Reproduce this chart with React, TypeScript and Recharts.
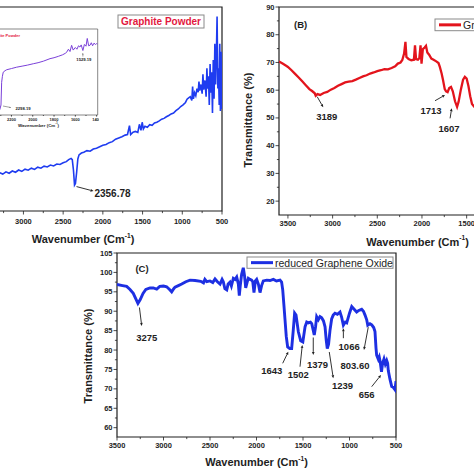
import { LineChart, Line, XAxis, YAxis, ReferenceArea, ReferenceDot } from 'recharts';

const FONT = '"Liberation Sans", Arial, Helvetica, sans-serif';
const INK = '#1e1e1e';

type Pt = [number, number];

// (A) graphite powder: wavenumber (cm-1), relative transmittance
const graphitePowder: Pt[] = [
  [3500, 18.2], [3450, 17.5], [3400, 18.6], [3350, 18.0], [3300, 18.8], [3260, 18.1], [3220, 19.2],
  [3180, 18.5], [3140, 19.6], [3100, 19.0], [3060, 20.1], [3020, 19.4], [2980, 20.5], [2940, 20.0],
  [2900, 21.0], [2860, 20.4], [2820, 21.5], [2780, 21.0], [2740, 22.0], [2700, 21.6], [2660, 22.5],
  [2620, 22.1], [2580, 23.0], [2540, 22.8], [2500, 23.6], [2460, 24.2], [2430, 25.2], [2400, 25.8],
  [2385, 25.2], [2370, 20.0], [2356.78, 12.7], [2345, 13.5], [2330, 19.0], [2315, 25.5], [2300, 27.5],
  [2270, 28.4], [2240, 28.8], [2200, 29.6], [2160, 29.3], [2120, 30.4], [2080, 30.8], [2040, 31.5],
  [2000, 32.2], [1960, 32.6], [1920, 33.5], [1880, 34.0], [1840, 35.2], [1800, 35.8], [1760, 36.4],
  [1720, 37.2], [1690, 37.5], [1665, 41.8], [1650, 37.5], [1620, 38.6], [1590, 39.0], [1560, 38.5],
  [1540, 42.5], [1520, 39.5], [1505, 43.5], [1490, 40.2], [1470, 41.5], [1440, 41.0], [1410, 42.3],
  [1380, 42.0], [1350, 43.2], [1320, 43.5], [1290, 44.2], [1260, 45.0], [1230, 45.4], [1200, 46.2],
  [1170, 46.8], [1140, 47.6], [1110, 48.0], [1080, 49.2], [1050, 50.0], [1020, 51.2], [990, 52.0],
  [960, 53.2], [940, 54.8], [920, 55.5], [900, 56.0], [880, 54.2], [870, 61.0], [860, 55.0],
  [845, 58.0], [830, 56.5], [815, 60.0], [800, 58.2], [790, 63.5], [780, 59.0], [765, 62.0],
  [750, 57.5], [740, 67.0], [730, 59.5], [715, 64.0], [700, 56.0], [690, 70.0], [680, 60.0],
  [670, 66.0], [660, 52.0], [650, 72.0], [640, 58.0], [630, 68.0], [620, 48.0], [610, 74.0],
  [600, 55.0], [590, 82.0], [580, 62.0], [570, 78.0], [562, 95.3], [552, 60.0], [545, 70.0],
  [535, 52.0], [528, 82.0], [520, 49.0], [512, 78.0], [505, 56.0], [500, 50.0],
];
const graphitePeak = 2356.78;

// inset: magnified graphite trace
const graphiteInset: Pt[] = [
  [2500, 3], [2400, 2], [2340, 3], [2310, 6], [2298.19, 11.6], [2292, 38], [2285, 45], [2277, 49.8],
  [2260, 51.5], [2245, 52.6], [2200, 54.0], [2151, 55.6], [2100, 56.8], [2050, 58.0], [1995, 59.6],
  [1950, 60.8], [1900, 62.6], [1838, 65.5], [1800, 66.6], [1760, 68.2], [1720, 70.0], [1690, 72.0],
  [1682, 73.0], [1665, 76.5], [1650, 73.8], [1635, 81.0], [1620, 75.5], [1600, 78.5], [1585, 76.5],
  [1570, 80.5], [1557, 79.0], [1545, 81.5], [1529.19, 75.0], [1515, 82.0], [1500, 80.0], [1488, 89.0],
  [1475, 80.5], [1463, 81.0], [1450, 84.0], [1438, 80.5], [1425, 83.5], [1410, 82.0], [1400, 83.0],
  [1390, 82.5],
];
const insetPeaks = [2298.19, 1529.19];

// (B) graphene oxide, transmittance (%)
const grapheneOxide: Pt[] = [
  [3600, 70.4], [3560, 69.6], [3520, 68.8], [3500, 68.4], [3460, 67.2], [3420, 65.9], [3380, 64.6],
  [3340, 63.2], [3300, 61.8], [3260, 60.4], [3230, 59.7], [3200, 58.9], [3189, 58.0], [3170, 58.6],
  [3140, 58.3], [3100, 59.0], [3060, 59.4], [3020, 60.2], [2980, 60.8], [2940, 61.6], [2900, 62.2],
  [2860, 62.8], [2820, 63.1], [2780, 63.3], [2740, 63.8], [2700, 64.4], [2660, 65.0], [2620, 65.4],
  [2580, 66.0], [2540, 66.4], [2500, 66.9], [2460, 67.2], [2420, 67.6], [2380, 67.5], [2340, 68.0],
  [2300, 68.6], [2270, 69.6], [2240, 70.0], [2220, 70.9], [2200, 73.2], [2185, 77.4], [2174, 72.0],
  [2150, 71.2], [2120, 70.8], [2090, 71.0], [2078, 76.2], [2066, 71.2], [2045, 71.0], [2030, 71.5],
  [2016, 76.2], [2005, 69.6], [1990, 74.8], [1970, 75.4], [1955, 76.0], [1940, 73.6], [1920, 72.8],
  [1895, 71.4], [1870, 71.0], [1840, 70.4], [1815, 69.8], [1800, 68.4], [1780, 66.0], [1765, 63.8],
  [1745, 60.4], [1730, 59.6], [1713, 59.3], [1695, 60.8], [1675, 61.2], [1655, 59.6], [1630, 56.0],
  [1607, 54.0], [1590, 55.8], [1565, 60.2], [1540, 63.8], [1520, 64.8], [1500, 64.2], [1480, 61.5],
  [1460, 57.8], [1440, 55.0], [1420, 54.2], [1400, 55.0], [1380, 55.6],
];
const goPeaks = [3189, 1713, 1607];

// (C) reduced graphene oxide, transmittance (%)
const reducedGO: Pt[] = [
  [3500, 96.9], [3440, 96.6], [3396, 96.4], [3360, 95.6], [3325, 94.6], [3300, 93.3], [3275, 92.0],
  [3250, 93.0], [3220, 94.6], [3190, 95.6], [3145, 96.0], [3110, 96.0], [3073, 95.7], [3040, 96.4],
  [3000, 96.5], [2966, 96.3], [2935, 95.6], [2912, 95.0], [2890, 95.8], [2876, 96.2], [2840, 96.6],
  [2804, 97.0], [2760, 97.6], [2715, 98.0], [2660, 97.9], [2600, 97.7], [2570, 97.3], [2555, 98.2],
  [2535, 97.6], [2500, 97.8], [2470, 97.4], [2446, 98.3], [2420, 97.6], [2392, 97.0], [2370, 98.2],
  [2357, 97.6], [2340, 95.8], [2320, 95.5], [2305, 97.0], [2285, 97.5], [2270, 96.5], [2249, 98.5],
  [2230, 98.2], [2213, 98.8], [2195, 97.0], [2185, 94.0], [2175, 96.5], [2160, 99.5], [2142, 101.2],
  [2128, 99.0], [2116, 96.0], [2100, 97.5], [2088, 98.5], [2070, 98.2], [2052, 98.0], [2040, 97.6],
  [2027, 94.8], [2012, 97.8], [1998, 98.2], [1980, 97.0], [1962, 94.8], [1945, 96.6], [1927, 97.8],
  [1890, 98.0], [1855, 97.9], [1819, 98.2], [1785, 97.8], [1747, 98.0], [1730, 97.5], [1718, 95.5],
  [1705, 91.5], [1694, 88.0], [1680, 83.5], [1665, 80.8], [1643, 80.4], [1622, 80.4], [1605, 85.0],
  [1590, 89.5], [1575, 89.0], [1550, 84.7], [1525, 82.4], [1502, 82.1], [1478, 86.0], [1460, 87.2],
  [1443, 87.0], [1420, 87.2], [1406, 86.8], [1379, 83.9], [1365, 86.0], [1353, 88.6], [1335, 87.8],
  [1317, 88.6], [1299, 88.3], [1280, 87.5], [1263, 86.0], [1250, 82.5], [1239, 80.4], [1225, 81.5],
  [1210, 85.0], [1192, 88.0], [1175, 89.0], [1156, 89.5], [1130, 89.2], [1102, 89.8], [1085, 88.5],
  [1066, 86.4], [1045, 87.2], [1030, 87.0], [1000, 89.5], [976, 91.2], [950, 90.5], [923, 89.8],
  [900, 90.2], [869, 90.5], [850, 90.0], [833, 89.0], [815, 87.8], [803.6, 86.4], [780, 86.8],
  [761, 86.5], [740, 85.8], [726, 84.8], [715, 80.5], [708, 78.7], [690, 77.6], [680, 78.2],
  [670, 77.0], [656, 74.4], [645, 76.5], [629, 77.7], [615, 76.4], [600, 77.3], [590, 76.6],
  [583, 74.7], [565, 72.5], [546, 70.6], [530, 70.4], [511, 69.8], [500, 72.0],
];
const rgoPeaks = [3275, 1643, 1502, 1379, 1239, 1066, 803.6, 656];
const rgoPeakText = ['3275', '1643', '1502', '1379', '1239', '1066', '803.60', '656'];

const seriesNames = ['Graphite Powder', 'Graphene Oxide', 'reduced Graphene Oxide'];

const steps = (from: number, to: number, step: number) => {
  const out: number[] = [];
  for (let v = from; v <= to + 1e-9; v += step) out.push(+v.toFixed(2));
  return out;
};

const toRows = (pts: Pt[]) => pts.map(([w, t]) => ({ w, t }));
const valueAt = (pts: Pt[], w: number) => (pts.find((p) => p[0] === w) as Pt)[1];

// callout placement, offsets in px from the marked point
type Callout = { dx: number; dy: number; ax: number; ay: number; bx: number; by: number };
const calloutA: Callout = { dx: 38, dy: 8, ax: 2, ay: 1.5, bx: 19, by: 6 };
const calloutInset: Callout[] = [
  { dx: 22, dy: 3, ax: 2, ay: 1, bx: 10, by: 2.5 },
  { dx: 1, dy: 9, ax: 0, ay: 6, bx: 0, by: 2.5 },
];
const calloutB: Callout[] = [
  { dx: 11, dy: 21, ax: 1.5, ay: 1, bx: 7.5, by: 11.5 },
  { dx: -16.6, dy: 18, ax: -12.6, ay: 8.6, bx: -2.6, by: 2.9 },
  { dx: -8, dy: 21.5, ax: -7, ay: 11.5, bx: -5.4, by: 1.5 },
];
const calloutC: Callout[] = [
  { dx: 8.8, dy: 34.2, ax: 1.5, ay: 4, bx: 3.8, by: 22.5 },
  { dx: -18, dy: 22.2, ax: -7, ay: 14.8, bx: -1.4, by: 3.2 },
  { dx: -4.5, dy: 33, ax: -2.8, ay: 24.8, bx: -0.5, by: 3.1 },
  { dx: 3.2, dy: 30, ax: -1, ay: 2.6, bx: -1, by: 20 },
  { dx: 15.2, dy: 37.2, ax: 2, ay: 3.5, bx: 6, by: 29.8 },
  { dx: 5.8, dy: 21.5, ax: 0, ay: 13, bx: 0, by: 3 },
  { dx: -12.8, dy: 40.5, ax: 0.5, ay: 2, bx: -3.8, by: 24.8 },
  { dx: -14.8, dy: 23.2, ax: -9.8, ay: 14.9, bx: -0.5, by: 3.2 },
];

function Arrow({ x1, y1, x2, y2, head = 3, w = 0.9 }: any) {
  const len = Math.hypot(x2 - x1, y2 - y1) || 1;
  const ux = (x2 - x1) / len;
  const uy = (y2 - y1) / len;
  const bx = x2 - ux * head;
  const by = y2 - uy * head;
  const nx = -uy * head * 0.45;
  const ny = ux * head * 0.45;
  return (
    <g>
      <line x1={x1} y1={y1} x2={bx} y2={by} stroke={INK} strokeWidth={w} />
      <polygon points={`${x2},${y2} ${bx + nx},${by + ny} ${bx - nx},${by - ny}`} fill={INK} />
    </g>
  );
}

const calloutLabel = (text: string, c: Callout, size: number, head = 3) => (props: any) => {
  const vb = props.viewBox || {};
  const cx = (vb.x ?? 0) + (vb.width ?? 0) / 2;
  const cy = (vb.y ?? 0) + (vb.height ?? 0) / 2;
  return (
    <g>
      <Arrow x1={cx + c.ax} y1={cy + c.ay} x2={cx + c.bx} y2={cy + c.by} head={head} w={head / 3.3} />
      <text x={cx + c.dx} y={cy + c.dy} textAnchor="middle" dominantBaseline="central"
        fontSize={size} fontWeight={700} fontFamily={FONT} fill={INK}>{text}</text>
    </g>
  );
};

const tickBottom = (majors: number[], size: number, gap: number, len: number) => (p: any) => {
  const v = p.payload.value;
  const major = majors.includes(v);
  return (
    <g>
      <line x1={p.x} x2={p.x} y1={p.y} y2={p.y + (major ? len : len * 0.6)} stroke={INK} strokeWidth={0.8} />
      {major && (
        <text x={p.x} y={p.y + gap} textAnchor="middle" dominantBaseline="central"
          fontSize={size} fontWeight={700} fontFamily={FONT} fill={INK}>{v}</text>
      )}
    </g>
  );
};

const tickLeft = (majors: number[], size: number, gap: number, len: number) => (p: any) => {
  const v = p.payload.value;
  const major = majors.includes(v);
  return (
    <g>
      <line x1={p.x} x2={p.x - (major ? len : len * 0.6)} y1={p.y} y2={p.y} stroke={INK} strokeWidth={0.8} />
      {major && (
        <text x={p.x - gap} y={p.y} textAnchor="end" dominantBaseline="central"
          fontSize={size} fontWeight={700} fontFamily={FONT} fill={INK}>{v}</text>
      )}
    </g>
  );
};

const xTitle = (size: number, dy: number) => (props: any) => {
  const { x, y, width } = props.viewBox;
  return (
    <text x={x + width / 2} y={y + dy} textAnchor="middle" dominantBaseline="central"
      fontSize={size} fontWeight={700} fontFamily={FONT} fill={INK}>
      Wavenumber (Cm<tspan dy={-size * 0.4} fontSize={size * 0.6}>-1</tspan>
      <tspan dy={size * 0.4}>)</tspan>
    </text>
  );
};

const yTitle = (size: number, dx: number, shift: number) => (props: any) => {
  const { x, y, height } = props.viewBox;
  const cx = x + dx;
  const cy = y + height / 2 + shift;
  return (
    <text x={cx} y={cy} transform={`rotate(-90 ${cx} ${cy})`} textAnchor="middle" dominantBaseline="central"
      fontSize={size} fontWeight={700} fontFamily={FONT} fill={INK}>Transmittance (%)</text>
  );
};

// frame labels: legend boxes and panel tags
const legendA = (props: any) => {
  const { x, y } = props.viewBox;
  return (
    <g>
      <rect x={x + 174} y={y + 8} width={86} height={13} fill="#fff" stroke="#8a8a8a" strokeWidth={1} />
      <text x={x + 217} y={y + 14.8} textAnchor="middle" dominantBaseline="central" fontSize={10}
        fontWeight={700} fontFamily={FONT} fill="#e3173e">{seriesNames[0]}</text>
    </g>
  );
};

const insetTag = (props: any) => {
  const { x, y } = props.viewBox;
  return (
    <text x={x + 40.5} y={y + 6} textAnchor="end" dominantBaseline="central" fontSize={4}
      fontWeight={700} fontFamily={FONT} fill="#e3173e">{seriesNames[0]}</text>
  );
};

const legendLine = (tag: string, name: string, color: string, box: { x: number; y: number; w: number; h: number }, tagAt: [number, number]) =>
  (props: any) => {
    const { x, y } = props.viewBox;
    const my = y + box.y + box.h / 2;
    return (
      <g>
        <rect x={x + box.x} y={y + box.y} width={box.w} height={box.h} fill="#fff" stroke="#8a8a8a" strokeWidth={1} />
        <line x1={x + box.x + 4} x2={x + box.x + 26} y1={my} y2={my} stroke={color} strokeWidth={3} />
        <text x={x + box.x + 28} y={my + 0.5} dominantBaseline="central" fontSize={10.5} fontFamily={FONT} fill={INK}>{name}</text>
        <text x={x + tagAt[0]} y={y + tagAt[1]} textAnchor="middle" dominantBaseline="central" fontSize={9.5}
          fontWeight={700} fontFamily={FONT} fill={INK}>{tag}</text>
      </g>
    );
  };

const BLUE_A = '#1f3cf0';
const VIOLET = '#7a40d8';
const RED = '#e3141c';
const BLUE_C = '#1d2fe2';

export default function App() {
  const ticksA = steps(500, 4000, 250);
  const ticksInset = steps(1400, 2500, 100);
  const ticksB = steps(500, 3500, 250);
  const ticksBy = steps(20, 90, 5);
  const ticksC = steps(500, 3500, 250);
  const ticksCy = steps(60, 105, 2.5);

  return (
    <div style={{ position: 'absolute', left: 0, top: 0, width: 474, height: 474, overflow: 'hidden', background: '#fff', fontFamily: FONT }}>
      {/* (A) graphite powder */}
      <div style={{ position: 'absolute', left: -100, top: 0 }}>
        <LineChart width={330} height={250} data={toRows(graphitePowder)} margin={{ top: 7, right: 8, bottom: 19, left: 44 }}>
          <XAxis dataKey="w" type="number" domain={[500, 4000]} reversed allowDataOverflow ticks={ticksA} interval={0}
            tick={tickBottom(steps(500, 4000, 500), 7.5, 10.5, 3.5)} tickLine={false} tickSize={0} tickMargin={0}
            axisLine={false} height={20} label={xTitle(11, 28)} />
          <YAxis hide type="number" domain={[0, 100]} />
          <Line dataKey="t" type="linear" stroke={BLUE_A} strokeWidth={1.6} dot={false} isAnimationActive={false} />
          <ReferenceArea x1={500} x2={4000} y1={0} y2={100} fill="none" stroke={INK} strokeWidth={1.2} label={legendA} />
          <ReferenceDot x={graphitePeak} y={valueAt(graphitePowder, graphitePeak)} r={2} fill="none" stroke="none"
            label={calloutLabel('2356.78', calloutA, 10)} />
        </LineChart>
      </div>

      {/* inset of (A) */}
      <div style={{ position: 'absolute', left: -40, top: 20 }}>
        <LineChart width={139} height={115} data={toRows(graphiteInset)} margin={{ top: 9, right: 1.3, bottom: 10, left: 19.5 }}>
          <XAxis dataKey="w" type="number" domain={[1390, 2500]} reversed allowDataOverflow ticks={ticksInset} interval={0}
            tick={tickBottom(steps(1400, 2400, 200), 4, 4.6, 1.6)} tickLine={false} tickSize={0} tickMargin={0}
            axisLine={false} height={10} label={xTitle(4.4, 10)} />
          <YAxis hide type="number" domain={[0, 100]} />
          <Line dataKey="t" type="linear" stroke={VIOLET} strokeWidth={1} dot={false} isAnimationActive={false} />
          <ReferenceArea x1={1390} x2={2500} y1={0} y2={100} fill="none" stroke="#555" strokeWidth={0.7} label={insetTag} />
          {insetPeaks.map((w, i) => (
            <ReferenceDot key={w} x={w} y={valueAt(graphiteInset, w)} r={1} fill="none" stroke="none"
              label={calloutLabel(w.toFixed(2), calloutInset[i], 4.2, 1.4)} />
          ))}
        </LineChart>
      </div>

      {/* (B) graphene oxide */}
      <div style={{ position: 'absolute', left: 200, top: 0 }}>
        <LineChart width={380} height={250} data={toRows(grapheneOxide)} margin={{ top: 7, right: 24, bottom: 15, left: 0 }}>
          <XAxis dataKey="w" type="number" domain={[500, 3600]} reversed allowDataOverflow ticks={ticksB} interval={0}
            tick={tickBottom(steps(500, 3500, 500), 7.5, 8.5, 3.5)} tickLine={false} tickSize={0} tickMargin={0}
            axisLine={false} height={20} label={xTitle(11, 26.7)} />
          <YAxis type="number" domain={[15, 90]} allowDataOverflow ticks={ticksBy} interval={0} width={79}
            tick={tickLeft(steps(20, 90, 10), 7.5, 4.5, 3.5)} tickLine={false} tickSize={0} tickMargin={0}
            axisLine={false} label={yTitle(11, 48, 9)} />
          <Line dataKey="t" type="linear" stroke={RED} strokeWidth={2.3} dot={false} isAnimationActive={false} />
          <ReferenceArea x1={500} x2={3600} y1={15} y2={90} fill="none" stroke={INK} strokeWidth={1.2}
            label={legendLine('(B)', seriesNames[1], RED, { x: 156, y: 12, w: 120, h: 11.7 }, [21.7, 17])} />
          {goPeaks.map((w, i) => (
            <ReferenceDot key={w} x={w} y={valueAt(grapheneOxide, w)} r={2} fill="none" stroke="none"
              label={calloutLabel(String(w), calloutB[i], 9.5)} />
          ))}
        </LineChart>
      </div>

      {/* (C) reduced graphene oxide */}
      <div style={{ position: 'absolute', left: 40, top: 240 }}>
        <LineChart width={370} height={234} data={toRows(reducedGO)} margin={{ top: 13, right: 14, bottom: 17, left: 0 }}>
          <XAxis dataKey="w" type="number" domain={[500, 3500]} reversed allowDataOverflow ticks={ticksC} interval={0}
            tick={tickBottom(steps(500, 3500, 500), 7.5, 8.5, 3.5)} tickLine={false} tickSize={0} tickMargin={0}
            axisLine={false} height={20} label={xTitle(11, 25)} />
          <YAxis type="number" domain={[57.6, 105]} allowDataOverflow ticks={ticksCy} interval={0} width={77}
            tick={tickLeft(steps(60, 105, 5), 7.5, 4.5, 3.5)} tickLine={false} tickSize={0} tickMargin={0}
            axisLine={false} label={yTitle(11, 48, 11)} />
          <Line dataKey="t" type="linear" stroke={BLUE_C} strokeWidth={2.9} dot={false} isAnimationActive={false} />
          <ReferenceArea x1={500} x2={3500} y1={57.6} y2={105} fill="none" stroke={INK} strokeWidth={1.2}
            label={legendLine('(C)', seriesNames[2], BLUE_C, { x: 130, y: 4, w: 146, h: 11.3 }, [25, 15.7])} />
          {rgoPeaks.map((w, i) => (
            <ReferenceDot key={w} x={w} y={valueAt(reducedGO, w)} r={2} fill="none" stroke="none"
              label={calloutLabel(rgoPeakText[i], calloutC[i], 9.5)} />
          ))}
        </LineChart>
      </div>
    </div>
  );
}
